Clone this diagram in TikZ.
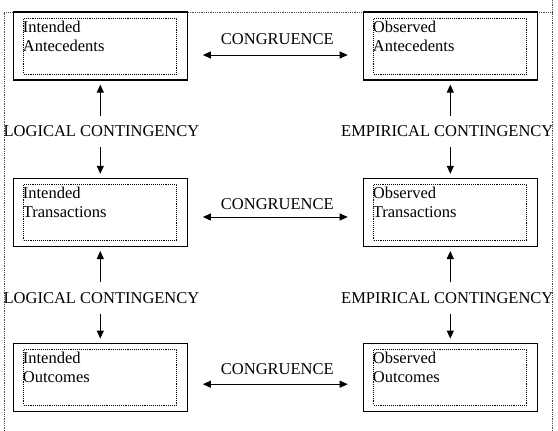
\documentclass[tikz,border=0pt]{standalone}
\usepackage{fontspec}
\setmainfont{Liberation Serif}
\usetikzlibrary{arrows.meta}
\usetikzlibrary{calc}

\begin{document}
\begin{tikzpicture}[x=1pt, y=-1pt, font=\fontsize{16.5}{19}\selectfont,
    outerbox/.style={rectangle, draw, line width=1.2pt, minimum width=174pt, minimum height=68pt, inner sep=0pt},
    innerbox/.style={rectangle, draw, densely dotted, line width=0.9pt, minimum width=153pt, minimum height=56pt, inner sep=0pt},
    boxtext/.style={anchor=north west, align=left, inner sep=0pt},
    contlabel/.style={inner xsep=0pt, inner ysep=10pt},
    arr/.style={-{Triangle[length=8pt, width=7pt]}, line width=1pt, shorten >=4pt},
    harr/.style={{Triangle[length=8pt, width=7pt]}-{Triangle[length=8pt, width=7pt]}, line width=1pt, shorten <=15pt, shorten >=15pt},
    margin/.style={densely dotted, line width=0.8pt, black!70}]
      \useasboundingbox (0,0) rectangle (558,431);

      % page margin guides
      \draw[margin] (4,431) -- (4,12) -- (552,12);
      \draw[margin] (552,0) -- (552,431);

      % boxes
      \node[outerbox] (ia) at (100.3,46) {};
      \node[outerbox] (oa) at (450.3,46) {};
      \node[outerbox] (it) at (100.3,212.4) {};
      \node[outerbox] (ot) at (450.3,212.4) {};
      \node[outerbox] (io) at (100.3,377.2) {};
      \node[outerbox] (oo) at (450.3,377.2) {};

      \node[innerbox] (ia-in) at (ia) {};
      \node[innerbox] (oa-in) at (oa) {};
      \node[innerbox] (it-in) at (it) {};
      \node[innerbox] (ot-in) at (ot) {};
      \node[innerbox] (io-in) at (io) {};
      \node[innerbox] (oo-in) at (oo) {};

      \node[boxtext] (ia-txt) at ($(ia.north west)+(10,9.5)$) {Intended\\Antecedents};
      \node[boxtext] (oa-txt) at ($(oa.north west)+(10,9.5)$) {Observed\\Antecedents};
      \node[boxtext] (it-txt) at ($(it.north west)+(10,9.5)$) {Intended\\Transactions};
      \node[boxtext] (ot-txt) at ($(ot.north west)+(10,9.5)$) {Observed\\Transactions};
      \node[boxtext] (io-txt) at ($(io.north west)+(10,9.5)$) {Intended\\Outcomes};
      \node[boxtext] (oo-txt) at ($(oo.north west)+(10,9.5)$) {Observed\\Outcomes};

      % contingencies
      \node[contlabel] (lc1) at (101.5,131.4) {LOGICAL CONTINGENCY};
      \node[contlabel] (lc2) at (101.5,298) {LOGICAL CONTINGENCY};
      \node[contlabel] (ec1) at (447.3,131.4) {EMPIRICAL CONTINGENCY};
      \node[contlabel] (ec2) at (447.3,298) {EMPIRICAL CONTINGENCY};

      \draw[arr] (lc1.north -| ia) -- (ia.south);
      \draw[arr] (lc1.south -| it) -- (it.north);
      \draw[arr] (lc2.north -| it) -- (it.south);
      \draw[arr] (lc2.south -| io) -- (io.north);
      \draw[arr] (ec1.north -| oa) -- (oa.south);
      \draw[arr] (ec1.south -| ot) -- (ot.north);
      \draw[arr] (ec2.north -| ot) -- (ot.south);
      \draw[arr] (ec2.south -| oo) -- (oo.north);

      % congruence
      \draw[harr] ([yshift=-9pt]ia.east) -- node[midway, above=10pt, inner sep=0pt, xshift=2pt] (cg1) {CONGRUENCE} ([yshift=-9pt]oa.west);
      \draw[harr] ([yshift=-4.6pt]it.east) -- node[midway, above=6.6pt, inner sep=0pt, xshift=2pt] (cg2) {CONGRUENCE} ([yshift=-4.6pt]ot.west);
      \draw[harr] ([yshift=-7pt]io.east) -- node[midway, above=8.8pt, inner sep=0pt, xshift=2pt] (cg3) {CONGRUENCE} ([yshift=-7pt]oo.west);
    \end{tikzpicture}
\end{document}
